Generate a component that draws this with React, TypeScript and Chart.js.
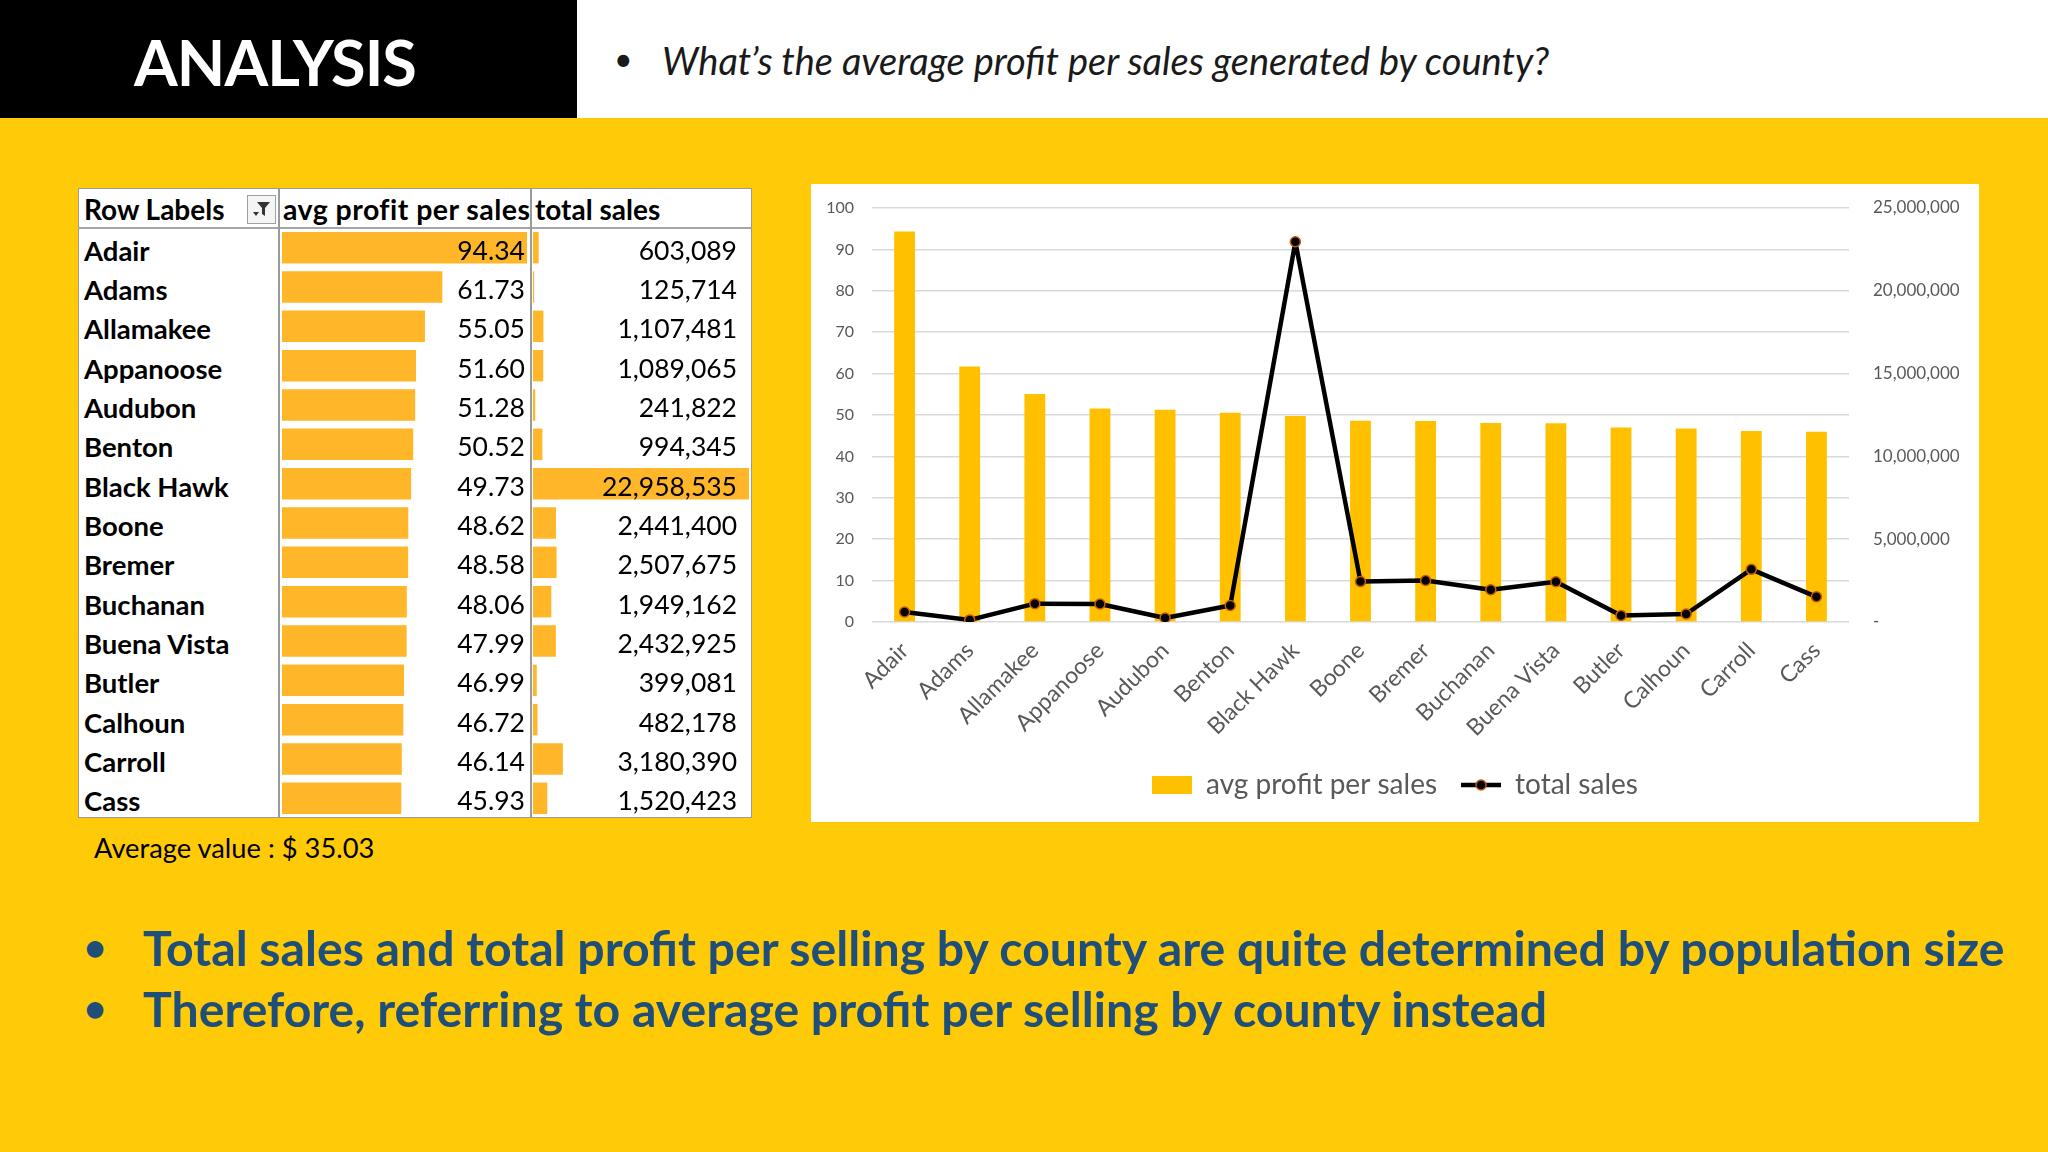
import { useEffect, useRef } from "react";
import { Chart, registerables } from "chart.js";
Chart.register(...registerables);

const counties = [
  "Adair",
  "Adams",
  "Allamakee",
  "Appanoose",
  "Audubon",
  "Benton",
  "Black Hawk",
  "Boone",
  "Bremer",
  "Buchanan",
  "Buena Vista",
  "Butler",
  "Calhoun",
  "Carroll",
  "Cass",
];
const avgProfit = [
  94.34, 61.73, 55.05, 51.6, 51.28, 50.52, 49.73, 48.62, 48.58, 48.06, 47.99,
  46.99, 46.72, 46.14, 45.93,
];
const totalSales = [
  603089, 125714, 1107481, 1089065, 241822, 994345, 22958535, 2441400, 2507675,
  1949162, 2432925, 399081, 482178, 3180390, 1520423,
];
const profitAxisMax = 100;
const profitAxisStep = 10;
const salesAxisMax = 25000000;
const salesAxisStep = 5000000;
const averageValue = "Average value : $ 35.03";

const YELLOW = "#FFCA08";
const FONT = "Lato, 'Open Sans', sans-serif";

const DataBar = ({
  values,
  width,
  height,
  color,
}: {
  values: number[];
  width: number;
  height: number;
  color: string;
}) => {
  const canvasRef = useRef<HTMLCanvasElement>(null);

  useEffect(() => {
    const canvas = canvasRef.current;
    if (!canvas) return;
    const chart = new Chart(canvas, {
      type: "bar",
      data: {
        labels: counties,
        datasets: [
          {
            data: values,
            backgroundColor: color,
            barPercentage: 0.8,
            categoryPercentage: 1,
          },
        ],
      },
      options: {
        indexAxis: "y",
        responsive: false,
        animation: false,
        layout: { padding: 0 },
        plugins: { legend: { display: false }, tooltip: { enabled: false } },
        scales: {
          x: { display: false, min: 0, max: Math.max(...values) },
          y: { display: false },
        },
      },
    });
    return () => chart.destroy();
  }, [values, width, height, color]);

  return (
    <canvas
      ref={canvasRef}
      width={width}
      height={height}
      style={{ width, height, display: "block" }}
    />
  );
};

const ComboChart = () => {
  const canvasRef = useRef<HTMLCanvasElement>(null);

  useEffect(() => {
    const canvas = canvasRef.current;
    if (!canvas) return;

    // legend swatches like the Excel ones
    const rectImg = document.createElement("canvas");
    rectImg.width = 40;
    rectImg.height = 18;
    const rc = rectImg.getContext("2d")!;
    rc.fillStyle = "#FFC000";
    rc.fillRect(0, 0, 40, 18);

    const lineImg = document.createElement("canvas");
    lineImg.width = 40;
    lineImg.height = 14;
    const lc = lineImg.getContext("2d")!;
    lc.strokeStyle = "#000";
    lc.lineWidth = 4.5;
    lc.beginPath();
    lc.moveTo(0, 7);
    lc.lineTo(40, 7);
    lc.stroke();
    lc.beginPath();
    lc.arc(20, 7, 5, 0, Math.PI * 2);
    lc.fillStyle = "#000";
    lc.fill();
    lc.lineWidth = 1.5;
    lc.strokeStyle = "#C55A11";
    lc.stroke();

    const chart = new Chart(canvas, {
      type: "bar",
      data: {
        labels: counties,
        datasets: [
          {
            type: "bar",
            label: "avg profit per sales",
            data: avgProfit,
            backgroundColor: "#FFC000",
            barPercentage: 0.32,
            categoryPercentage: 1,
            yAxisID: "y",
            order: 1,
          },
          {
            type: "line",
            label: "total sales",
            data: totalSales,
            borderColor: "#000",
            borderWidth: 4.5,
            borderJoinStyle: "round",
            pointRadius: 5,
            pointBackgroundColor: "#000",
            pointBorderColor: "#C55A11",
            pointBorderWidth: 1.5,
            tension: 0,
            yAxisID: "y1",
            order: 0,
          },
        ],
      },
      options: {
        responsive: false,
        animation: false,
        layout: { padding: { top: 24, bottom: 13, left: 0, right: 0 } },
        plugins: {
          tooltip: { enabled: false },
          legend: {
            position: "bottom",
            labels: {
              usePointStyle: true,
              pointStyleWidth: 40,
              boxHeight: 18,
              padding: 24,
              color: "#595959",
              font: { family: FONT, size: 28 },
              generateLabels: (c: Chart) =>
                Chart.defaults.plugins.legend.labels
                  .generateLabels(c)
                  .sort((a, b) => (a.datasetIndex ?? 0) - (b.datasetIndex ?? 0))
                  .map((item) => ({
                    ...item,
                    pointStyle: item.datasetIndex === 0 ? rectImg : lineImg,
                  })),
            },
          },
        },
        scales: {
          x: {
            grid: { display: false },
            border: { display: false },
            ticks: {
              autoSkip: false,
              minRotation: 45,
              maxRotation: 45,
              padding: 7,
              color: "#595959",
              font: { family: FONT, size: 23 },
            },
            afterFit: (s: any) => {
              s.height = 125;
            },
          },
          y: {
            position: "left",
            min: 0,
            max: profitAxisMax,
            grid: {
              color: "#D9D9D9",
              lineWidth: 1.5,
              drawTicks: true,
              tickLength: 14,
              tickColor: "rgba(0,0,0,0)",
            },
            border: { display: false },
            ticks: {
              stepSize: profitAxisStep,
              padding: 4,
              color: "#595959",
              font: { family: FONT, size: 16 },
            },
            afterFit: (s: any) => {
              s.width = 61;
            },
          },
          y1: {
            position: "right",
            min: 0,
            max: salesAxisMax,
            grid: { display: false, drawTicks: true, tickLength: 20 },
            border: { display: false },
            ticks: {
              stepSize: salesAxisStep,
              padding: 4,
              color: "#595959",
              font: { family: FONT, size: 17 },
              callback: (v: any) =>
                Number(v) === 0 ? "-" : Number(v).toLocaleString("en-US"),
            },
            afterFit: (s: any) => {
              s.width = 130;
            },
          },
        },
      },
    });

    return () => chart.destroy();
  }, []);

  return (
    <canvas
      ref={canvasRef}
      width={1168}
      height={638}
      style={{ width: 1168, height: 638, display: "block" }}
    />
  );
};

const ROW_TOP = 228;
const ROW_H = 590 / 15;

const PivotTable = () => {
  const cellText = {
    position: "absolute" as const,
    fontFamily: FONT,
    fontSize: 26.5,
    lineHeight: "1",
    color: "#000",
    whiteSpace: "nowrap" as const,
  };
  return (
    <>
      {/* table frame */}
      <div
        style={{
          position: "absolute",
          left: 78,
          top: 188,
          width: 674,
          height: 630,
          background: "#fff",
          border: "1.5px solid #9A9A9A",
          boxSizing: "border-box",
        }}
      />
      <div style={{ position: "absolute", left: 78, top: 227, width: 674, height: 2, background: "#A6A6A6" }} />
      <div style={{ position: "absolute", left: 278, top: 188, width: 1.5, height: 630, background: "#9A9A9A" }} />
      <div style={{ position: "absolute", left: 530, top: 188, width: 1.5, height: 630, background: "#9A9A9A" }} />

      {/* data bars */}
      <div style={{ position: "absolute", left: 282, top: ROW_TOP }}>
        <DataBar values={avgProfit} width={245} height={590} color="#FFB629" />
      </div>
      <div style={{ position: "absolute", left: 533, top: ROW_TOP }}>
        <DataBar values={totalSales} width={216} height={590} color="#FFB629" />
      </div>

      {/* header */}
      <div style={{ ...cellText, left: 84, top: 195, fontWeight: 700, fontSize: 28 }}>Row Labels</div>
      <div
        style={{
          position: "absolute",
          left: 247,
          top: 195,
          width: 29,
          height: 29,
          border: "1.5px solid #A0A0A0",
          boxSizing: "border-box",
          background: "#F4F4F4",
        }}
      >
        <svg width="26" height="26" viewBox="0 0 26 26">
          <path d="M9 6 H22 L17 12 V20 L14 18 V12 Z" fill="#333" />
          <path d="M5 16 H11 L8 20 Z" fill="#333" />
        </svg>
      </div>
      <div style={{ ...cellText, left: 283, top: 195, fontWeight: 700, fontSize: 28.5, letterSpacing: 0.45 }}>
        avg profit per sales
      </div>
      <div style={{ ...cellText, left: 535, top: 195, fontWeight: 700, fontSize: 28 }}>total sales</div>

      {counties.map((c, i) => {
        const top = ROW_TOP + i * ROW_H + ROW_H / 2 - 13 + 2;
        return (
          <div key={c}>
            <div style={{ ...cellText, left: 84, top, fontWeight: 700, fontSize: 27.5 }}>{c}</div>
            <div style={{ ...cellText, right: 2048 - 525, top, textAlign: "right" }}>
              {avgProfit[i].toFixed(2)}
            </div>
            <div style={{ ...cellText, right: 2048 - 737, top, textAlign: "right" }}>
              {totalSales[i].toLocaleString("en-US")}
            </div>
          </div>
        );
      })}
    </>
  );
};

const App = () => {
  return (
    <div
      style={{
        position: "absolute",
        left: 0,
        top: 0,
        width: 2048,
        height: 1152,
        background: YELLOW,
        overflow: "hidden",
        fontFamily: FONT,
      }}
    >
      {/* header band */}
      <div style={{ position: "absolute", left: 0, top: 0, width: 2048, height: 118, background: "#fff" }} />
      <div style={{ position: "absolute", left: 0, top: 0, width: 577, height: 118, background: "#000" }} />
      <div
        style={{
          position: "absolute",
          left: 0,
          width: 550,
          top: 30,
          textAlign: "center",
          color: "#fff",
          fontWeight: 700,
          fontSize: 63,
          lineHeight: "1",
          letterSpacing: -1,
        }}
      >
        ANALYSIS
      </div>
      <div style={{ position: "absolute", left: 614, top: 43, fontSize: 32, lineHeight: "1", color: "#1A1A1A" }}>
        •
      </div>
      <div
        style={{
          position: "absolute",
          left: 662,
          top: 41,
          fontSize: 38,
          lineHeight: "1",
          fontStyle: "italic",
          color: "#1A1A1A",
          whiteSpace: "nowrap",
        }}
      >
        What’s the average profit per sales generated by county?
      </div>

      <PivotTable />

      <div style={{ position: "absolute", left: 94, top: 834, fontSize: 27.3, lineHeight: "1", color: "#000" }}>
        {averageValue}
      </div>

      {/* chart panel */}
      <div style={{ position: "absolute", left: 811, top: 184, width: 1168, height: 638, background: "#fff" }}>
        <ComboChart />
      </div>

      {/* bottom bullets */}
      {[
        "Total sales and total profit per selling by county are quite determined by population size",
        "Therefore, referring to average profit per selling by county instead",
      ].map((t, i) => (
        <div key={t}>
          <div
            style={{
              position: "absolute",
              left: 84,
              top: 927 + i * 61,
              fontSize: 38,
              lineHeight: "1",
              fontWeight: 700,
              color: "#1F4E79",
            }}
          >
            •
          </div>
          <div
            style={{
              position: "absolute",
              left: 143,
              top: 923 + i * 61,
              fontSize: 48.2,
              lineHeight: "1",
              fontWeight: 700,
              color: "#1F4E79",
              whiteSpace: "nowrap",
            }}
          >
            {t}
          </div>
        </div>
      ))}
    </div>
  );
};

export default App;
